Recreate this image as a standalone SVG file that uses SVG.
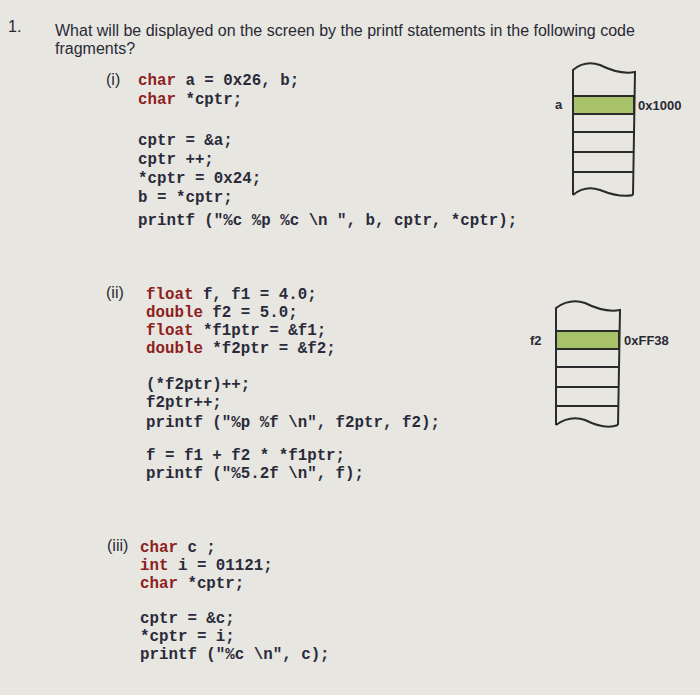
<svg xmlns="http://www.w3.org/2000/svg" width="700" height="695" viewBox="0 0 700 695">
<style>
.q{font-family:"Liberation Sans",Arial,sans-serif;font-size:16px;fill:#2a2a35}
.c{font-family:"Liberation Mono","Courier New",monospace;font-size:15.8px;font-weight:bold;fill:#2a2a3a;white-space:pre}
.k{fill:#8e2020}
.l{font-family:"Liberation Sans",Arial,sans-serif;font-size:13px;font-weight:bold;fill:#2a2a35}
.m{fill:none;stroke:#2a2a2a;stroke-width:2}
.g{fill:#a8c26a;stroke:#2a2a2a;stroke-width:2}
</style>
<rect width="700" height="695" fill="#e7e6e1"/>
<text class="q" x="8" y="32">1.</text>
<text class="q" x="55" y="36">What will be displayed on the screen by the printf statements in the following code</text>
<text class="q" x="55" y="54">fragments?</text>
<g id="part1">
<text class="q" x="106" y="85">(i)</text>
<text class="c" x="138" y="85"><tspan class="k">char</tspan> a = 0x26, b;</text>
<text class="c" x="138" y="104"><tspan class="k">char</tspan> *cptr;</text>
<text class="c" x="138" y="145">cptr = &amp;a;</text>
<text class="c" x="138" y="164">cptr ++;</text>
<text class="c" x="138" y="183">*cptr = 0x24;</text>
<text class="c" x="138" y="202">b = *cptr;</text>
<text class="c" x="138" y="225">printf ("%c %p %c \n ", b, cptr, *cptr);</text>
</g>
<g id="mem1">
<path class="m" d="M573,195 L573,70 Q585,60 600,65 Q620,75 635,72 L633,195"/>
<path class="m" d="M573,195 Q585,185 600,190 Q620,198 633,195"/>
<rect class="g" x="573" y="96" width="61" height="18"/>
<path class="m" d="M573,132 H634 M573,152 H633 M573,172 H633"/>
<text class="l" x="555" y="109">a</text>
<text class="l" x="638" y="110">0x1000</text>
</g>
<g id="part2">
<text class="q" x="106" y="298">(ii)</text>
<text class="c" x="146" y="299"><tspan class="k">float</tspan> f, f1 = 4.0;</text>
<text class="c" x="146" y="317"><tspan class="k">double</tspan> f2 = 5.0;</text>
<text class="c" x="146" y="335"><tspan class="k">float</tspan> *f1ptr = &amp;f1;</text>
<text class="c" x="146" y="353"><tspan class="k">double</tspan> *f2ptr = &amp;f2;</text>
<text class="c" x="146" y="389">(*f2ptr)++;</text>
<text class="c" x="146" y="407">f2ptr++;</text>
<text class="c" x="146" y="427">printf ("%p %f \n", f2ptr, f2);</text>
<text class="c" x="146" y="460">f = f1 + f2 * *f1ptr;</text>
<text class="c" x="146" y="478">printf ("%5.2f \n", f);</text>
</g>
<g id="mem2">
<path class="m" d="M556,425 L556,308 Q570,298 585,303 Q605,313 620,310 L618,425"/>
<path class="m" d="M556,425 Q570,415 585,420 Q605,430 618,425"/>
<rect class="g" x="556" y="331" width="63" height="18"/>
<path class="m" d="M556,367 H619 M556,387 H618 M556,406 H618"/>
<text class="l" x="530" y="345">f2</text>
<text class="l" x="624" y="345">0xFF38</text>
</g>
<g id="part3">
<text class="q" x="107" y="551">(iii)</text>
<text class="c" x="140" y="552"><tspan class="k">char</tspan> c ;</text>
<text class="c" x="140" y="570"><tspan class="k">int</tspan> i = 01121;</text>
<text class="c" x="140" y="588"><tspan class="k">char</tspan> *cptr;</text>
<text class="c" x="140" y="623">cptr = &amp;c;</text>
<text class="c" x="140" y="641">*cptr = i;</text>
<text class="c" x="140" y="659">printf ("%c \n", c);</text>
</g>
</svg>
